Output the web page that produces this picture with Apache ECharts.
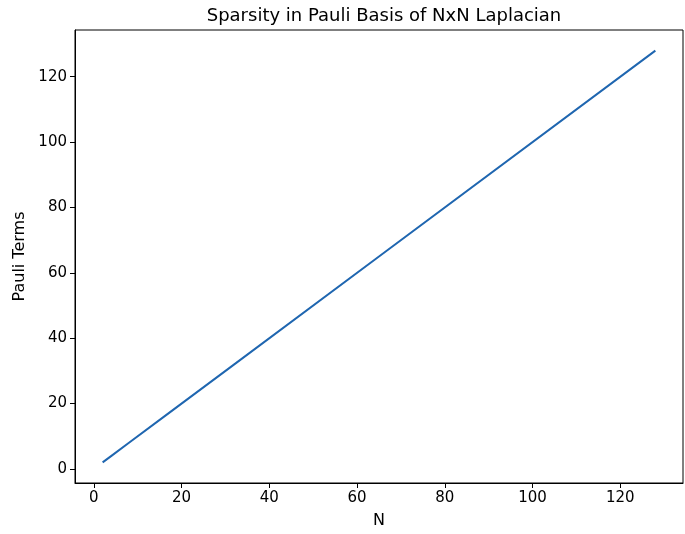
<!DOCTYPE html>
<html><head><meta charset="utf-8">
<script src="https://cdn.jsdelivr.net/npm/echarts@6/dist/echarts.min.js"></script>
<style>html,body{margin:0;padding:0;background:#fff}#c{width:685px;height:534px}</style>
</head><body><div id="c"></div>
<script>
const nValues = [2, 4, 8, 16, 32, 64, 128];
const pauliTerms = [2, 4, 8, 16, 32, 64, 128];
const tickValues = [0, 20, 40, 60, 80, 100, 120];
const chart = echarts.init(document.getElementById('c'));
const axisCommon = {
  type: 'value', min: -4.3, max: 134.3,
  splitLine: {show: false},
  axisLine: {show: true, onZero: false, lineStyle: {color: '#000'}},
  axisTick: {show: true, customValues: tickValues, length: 5, lineStyle: {color: '#000'}},
  axisLabel: {customValues: tickValues, color: '#000', fontSize: 15, fontFamily: 'DejaVu Sans'},
  nameTextStyle: {color: '#000', fontSize: 16, fontFamily: 'DejaVu Sans'},
  nameLocation: 'middle'
};
chart.setOption({
  animation: false,
  title: {text: 'Sparsity in Pauli Basis of NxN Laplacian', left: 379, top: 2, textAlign: 'center',
    textStyle: {fontSize: 18, fontWeight: 'normal', color: '#000', fontFamily: 'DejaVu Sans'}},
  grid: {left: 75, right: 2, top: 30, bottom: 50, show: true, borderColor: '#000', borderWidth: 1},
  xAxis: Object.assign({}, axisCommon, {name: 'N', nameGap: 30}),
  yAxis: Object.assign({}, axisCommon, {name: 'Pauli Terms', nameGap: 45}),
  series: [{type: 'line', data: nValues.map((n, i) => [n, pauliTerms[i]]), showSymbol: false,
    lineStyle: {color: '#1f66b0', width: 2}}]
});
</script></body></html>
